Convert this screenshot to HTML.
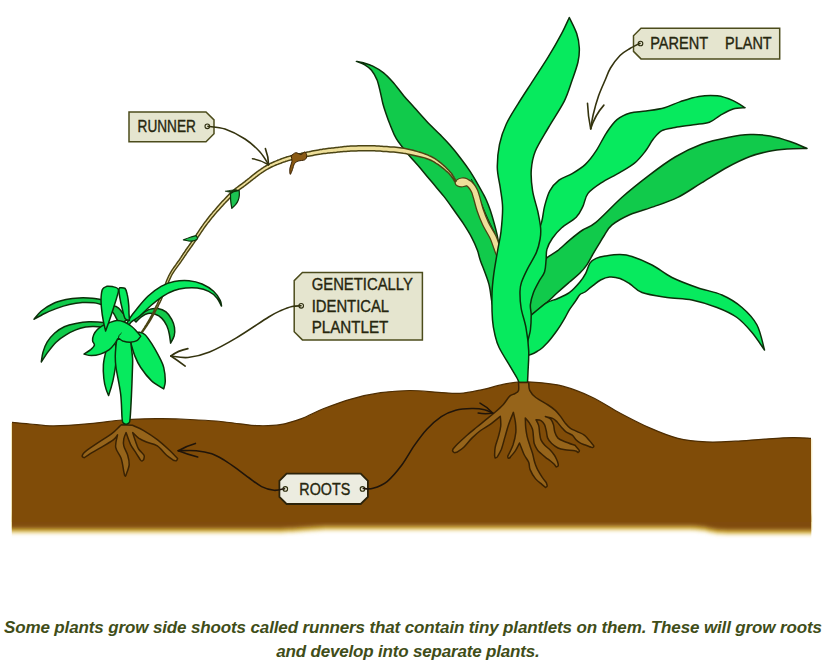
<!DOCTYPE html>
<html lang="en"><head><meta charset="utf-8"><title>Runners</title>
<style>
html,body{margin:0;padding:0;background:#fff;}
body{width:834px;height:670px;overflow:hidden;position:relative;font-family:"Liberation Sans",sans-serif;}
svg{position:absolute;left:0;top:0;display:block;}
svg text{font-family:"Liberation Sans",sans-serif;}
svg text.cap{font:italic bold 17px "Liberation Sans",sans-serif;fill:#404d18;}
</style></head><body>
<svg width="834" height="670" viewBox="0 0 834 670">
<defs>
<filter id="blurY1" filterUnits="userSpaceOnUse" x="0" y="500" width="834" height="60"><feGaussianBlur stdDeviation="0 2.0"/></filter>
<filter id="blurY2" filterUnits="userSpaceOnUse" x="0" y="500" width="834" height="60"><feGaussianBlur stdDeviation="0 2.2"/></filter>
</defs>
<path d="M11.8 515L11.8 532.6L272 532.6C298 532.6 306 529.8 336 529.8L690 529.8C706 529.8 712 534.1 728 534.1L811.3 534.1L811.3 515Z" fill="#dcbc4e" filter="url(#blurY2)"/>
<path d="M11.8 515L11.8 528.8L272 528.8C298 528.8 306 526.0 336 526.0L690 526.0C706 526.0 712 530.3 728 530.3L811.3 530.3L811.3 515Z" fill="#804c08" filter="url(#blurY1)"/>
<path d="M12.0 422.3C15.0 422.6 23.0 423.4 30.0 424.0C37.0 424.6 44.0 426.0 54.0 425.9C64.0 425.8 78.7 424.6 90.0 423.6C101.3 422.6 112.8 420.8 122.0 420.0C131.2 419.2 138.3 419.0 145.0 418.8C151.7 418.6 154.5 418.6 162.0 418.7C169.5 418.8 181.0 419.1 190.0 419.5C199.0 419.9 207.7 420.3 216.0 421.0C224.3 421.7 232.8 423.0 240.0 423.8C247.2 424.6 252.3 425.6 259.0 425.7C265.7 425.8 272.9 425.9 280.0 424.7C287.1 423.5 294.4 421.2 301.6 418.6C308.8 416.0 314.8 412.1 323.2 408.8C331.6 405.5 342.4 401.5 352.0 398.8C361.6 396.1 371.1 394.1 380.7 392.7C390.3 391.3 399.9 390.6 409.5 390.5C419.1 390.4 429.9 391.8 438.3 392.3C446.7 392.8 452.7 393.8 459.9 393.4C467.1 393.0 474.2 391.3 481.4 389.8C488.6 388.3 496.4 385.7 503.0 384.4C509.6 383.1 515.0 382.2 521.0 381.9C527.0 381.6 532.0 381.9 539.0 382.6C546.0 383.3 554.0 383.8 562.8 386.2C571.6 388.6 582.0 392.5 591.6 397.0C601.2 401.5 610.7 408.1 620.3 413.2C629.9 418.3 639.5 423.4 649.1 427.6C658.7 431.8 668.3 435.9 677.9 438.3C687.5 440.7 697.1 441.4 706.7 441.9C716.3 442.4 725.8 441.7 735.4 441.2C745.0 440.7 754.6 439.7 764.2 439.1C773.8 438.5 785.2 437.7 793.0 437.6C800.8 437.5 808.0 438.2 811.0 438.3L811.3 522L11.8 522Z" fill="#804c08"/>
<path d="M11.5 423V528M811.8 439V530" stroke="#efe2a4" stroke-width="1" opacity="0.7" fill="none"/>
<path d="M12.0 422.3C15.0 422.6 23.0 423.4 30.0 424.0C37.0 424.6 44.0 426.0 54.0 425.9C64.0 425.8 78.7 424.6 90.0 423.6C101.3 422.6 112.8 420.8 122.0 420.0C131.2 419.2 138.3 419.0 145.0 418.8C151.7 418.6 154.5 418.6 162.0 418.7C169.5 418.8 181.0 419.1 190.0 419.5C199.0 419.9 207.7 420.3 216.0 421.0C224.3 421.7 232.8 423.0 240.0 423.8C247.2 424.6 252.3 425.6 259.0 425.7C265.7 425.8 272.9 425.9 280.0 424.7C287.1 423.5 294.4 421.2 301.6 418.6C308.8 416.0 314.8 412.1 323.2 408.8C331.6 405.5 342.4 401.5 352.0 398.8C361.6 396.1 371.1 394.1 380.7 392.7C390.3 391.3 399.9 390.6 409.5 390.5C419.1 390.4 429.9 391.8 438.3 392.3C446.7 392.8 452.7 393.8 459.9 393.4C467.1 393.0 474.2 391.3 481.4 389.8C488.6 388.3 496.4 385.7 503.0 384.4C509.6 383.1 515.0 382.2 521.0 381.9C527.0 381.6 532.0 381.9 539.0 382.6C546.0 383.3 554.0 383.8 562.8 386.2C571.6 388.6 582.0 392.5 591.6 397.0C601.2 401.5 610.7 408.1 620.3 413.2C629.9 418.3 639.5 423.4 649.1 427.6C658.7 431.8 668.3 435.9 677.9 438.3C687.5 440.7 697.1 441.4 706.7 441.9C716.3 442.4 725.8 441.7 735.4 441.2C745.0 440.7 754.6 439.7 764.2 439.1C773.8 438.5 785.2 437.7 793.0 437.6C800.8 437.5 808.0 438.2 811.0 438.3" fill="none" stroke="#4d2d02" stroke-width="1.2"/>
<path d="M356.4 61.4C357.6 61.6 360.7 62.0 363.4 62.8C366.1 63.6 369.4 64.4 372.8 66.1C376.2 67.8 380.2 70.1 383.6 72.8C387.0 75.5 389.6 78.4 393.0 82.2C396.4 86.0 400.1 91.4 403.7 95.7C407.3 100.0 410.7 103.5 414.5 107.8C418.3 112.0 422.4 116.7 426.6 121.2C430.9 125.7 436.1 130.6 440.0 134.6C443.9 138.6 446.5 141.2 449.9 145.1C453.3 149.0 457.2 153.8 460.6 158.2C464.0 162.6 467.3 167.1 470.1 171.3C472.9 175.5 475.1 179.5 477.3 183.3C479.5 187.1 481.8 191.2 483.3 194.0C484.8 196.8 485.1 197.3 486.3 200.0C487.5 202.7 489.0 206.4 490.3 210.3C491.6 214.2 493.2 219.7 494.3 223.7C495.4 227.7 496.1 230.3 497.0 234.4C497.9 238.5 499.1 245.7 499.5 248.0L500.0 300.0C498.8 300.9 494.9 308.2 493.0 305.6C491.1 303.0 491.0 291.7 488.9 284.1C486.8 276.5 482.1 265.5 480.2 259.9C478.3 254.3 478.9 254.3 477.5 250.5C476.1 246.7 473.9 241.6 471.5 237.1C469.1 232.6 466.3 228.2 463.4 223.7C460.5 219.2 457.2 214.9 454.0 210.3C450.8 205.8 447.6 201.1 443.9 196.4C440.2 191.7 435.9 186.9 431.9 182.1C427.9 177.3 424.1 172.7 420.0 167.8C415.9 163.0 410.9 157.8 407.0 153.0C403.1 148.2 399.1 143.3 396.3 138.7C393.5 134.1 392.0 129.2 390.3 125.2C388.6 121.2 387.5 118.1 386.3 114.5C385.1 110.9 383.9 107.5 382.9 103.7C381.9 99.9 381.2 95.6 380.2 91.6C379.2 87.6 378.3 83.2 376.9 79.6C375.4 76.0 373.5 72.7 371.5 70.2C369.5 67.7 367.3 66.3 364.8 64.8C362.3 63.3 357.8 62.0 356.4 61.4Z" fill="#11ca4b" stroke="#0c2f0a" stroke-width="1.5" stroke-linejoin="round" stroke-linecap="round" />
<path d="M471.5 179.5C471.9 180.4 473.0 181.9 474.2 184.8C475.4 187.7 477.3 192.8 478.9 196.8C480.5 200.8 481.9 204.9 483.6 208.9C485.3 212.9 487.0 217.0 488.9 221.0C490.8 225.0 494.0 231.1 495.0 233.1" fill="none" stroke="#0c2f0a" stroke-width="1.0" stroke-linejoin="round" stroke-linecap="round" />
<path d="M538.0 268.0C539.4 266.4 542.9 261.2 546.1 258.4C549.3 255.5 553.4 253.9 557.3 250.9C561.2 247.9 565.4 243.6 569.6 240.1C573.8 236.6 578.3 232.9 582.7 230.0C587.1 227.1 589.3 227.9 595.9 222.4C602.5 216.9 613.5 204.8 622.3 197.0C631.1 189.2 639.9 182.3 648.7 175.6C657.5 168.9 666.3 162.2 675.1 157.0C683.9 151.8 692.7 147.6 701.5 144.3C710.3 141.1 719.7 139.1 727.8 137.5C735.9 135.9 743.0 134.8 750.0 134.6C757.0 134.3 763.3 134.8 770.0 136.0C776.7 137.2 783.8 139.4 790.0 141.5C796.2 143.6 804.2 147.3 807.0 148.5C803.7 148.6 793.5 148.5 787.0 149.0C780.5 149.5 774.2 150.2 768.0 151.5C761.8 152.8 756.7 153.9 750.0 156.5C743.3 159.1 735.9 162.6 727.8 167.0C719.7 171.4 709.9 177.8 701.5 182.9C693.1 188.0 685.6 193.5 677.7 197.4C669.8 201.3 661.9 203.8 654.0 206.6C646.1 209.4 637.2 211.4 630.2 214.5C623.2 217.6 616.2 221.5 611.8 225.1C607.4 228.7 606.0 232.9 603.9 236.0C601.8 239.1 600.9 240.9 599.1 243.9C597.3 246.9 595.1 250.5 593.1 253.9C591.1 257.3 589.4 261.1 587.2 264.3C585.0 267.5 582.7 270.3 579.7 273.3C576.7 276.3 573.0 279.0 569.3 282.2C565.6 285.4 561.2 289.2 557.3 292.7C553.4 296.2 550.5 299.4 546.1 303.1C541.8 306.8 534.9 312.3 531.2 315.1C527.5 317.9 525.2 319.2 524.0 320.0Z" fill="#11ca4b" stroke="#0c2f0a" stroke-width="1.5" stroke-linejoin="round" stroke-linecap="round" />
<path d="M524.0 320.0C525.2 319.2 527.5 317.9 531.2 315.1C534.9 312.3 541.8 305.8 546.1 303.1C550.5 300.4 553.4 300.4 557.3 298.7C561.2 297.0 565.6 295.4 569.3 292.7C573.0 289.9 577.0 285.4 579.7 282.2C582.4 279.0 584.0 276.5 585.7 273.3C587.4 270.1 588.4 265.3 590.1 262.8C591.8 260.3 593.6 259.5 596.1 258.4C598.6 257.3 601.1 256.7 605.1 256.1C609.1 255.5 615.5 254.5 620.0 254.6C624.5 254.7 626.7 254.8 632.0 256.5C637.3 258.2 645.3 261.5 652.0 265.0C658.7 268.5 664.5 273.8 672.0 277.5C679.5 281.2 688.7 284.6 697.0 287.5C705.3 290.4 714.5 291.7 722.0 295.0C729.5 298.3 736.2 302.5 742.0 307.5C747.8 312.5 753.2 317.9 757.0 325.0C760.8 332.1 763.2 345.8 764.5 350.0C762.4 347.1 756.6 337.9 752.0 332.5C747.4 327.1 742.8 321.7 737.0 317.5C731.2 313.3 724.5 310.4 717.0 307.5C709.5 304.6 700.3 301.7 692.0 300.0C683.7 298.3 675.3 298.8 667.0 297.5C658.7 296.2 648.2 294.8 642.0 292.5C635.8 290.2 633.7 286.3 630.0 284.0C626.3 281.7 623.4 279.7 620.0 278.5C616.6 277.3 612.8 276.8 609.6 277.0C606.4 277.2 603.6 278.4 600.6 280.0C597.6 281.6 594.2 284.7 591.6 286.7C589.0 288.7 586.9 290.7 585.0 292.0C583.1 293.3 581.6 293.0 580.0 294.5C578.4 296.0 577.2 298.7 575.5 301.2C573.8 303.7 571.3 306.7 569.6 309.4C567.9 312.1 566.6 315.0 565.1 317.6C563.6 320.2 562.1 322.7 560.6 325.1C559.1 327.5 557.6 329.7 556.1 331.8C554.6 333.9 553.1 335.9 551.6 337.8C550.1 339.7 548.7 341.4 547.2 343.0C545.7 344.6 544.3 346.1 542.7 347.5C541.1 348.9 539.4 350.1 537.5 351.2C535.6 352.3 533.8 353.4 531.5 354.2C529.2 355.0 525.2 355.7 524.0 356.0Z" fill="#07ea5e" stroke="#0c2f0a" stroke-width="1.5" stroke-linejoin="round" stroke-linecap="round" />
<path d="M508.0 345.0C508.0 329.2 504.3 267.5 508.0 250.0C511.7 232.5 524.6 244.2 530.0 240.0C535.4 235.8 538.2 230.7 540.6 225.1C543.0 219.5 543.0 212.3 544.5 206.6C546.0 200.9 547.4 195.2 549.8 190.8C552.2 186.4 555.3 183.1 559.0 180.2C562.7 177.3 567.8 176.2 572.2 173.6C576.6 171.0 581.5 168.1 585.4 164.4C589.3 160.7 592.4 156.5 595.9 151.2C599.4 145.9 603.0 138.1 606.5 132.8C610.0 127.5 613.0 122.9 617.0 119.6C621.0 116.3 625.4 114.4 630.2 113.0C635.1 111.6 640.4 112.0 646.1 111.1C651.8 110.2 658.8 109.3 664.5 107.7C670.2 106.1 674.7 103.5 680.4 101.6C686.1 99.7 692.6 97.4 698.8 96.4C704.9 95.4 711.6 95.1 717.3 95.8C723.0 96.5 728.5 98.6 733.1 100.6C737.7 102.6 743.0 106.5 745.0 107.7C743.0 107.9 737.3 107.7 733.1 109.0C728.9 110.3 723.9 113.4 719.9 115.6C715.9 117.8 713.8 120.7 709.4 122.2C705.0 123.7 699.2 123.9 693.5 124.8C687.8 125.7 680.4 126.5 675.1 127.5C669.8 128.5 665.5 128.7 661.9 130.6C658.3 132.5 656.3 135.4 653.5 138.8C650.7 142.2 648.5 147.2 645.3 151.3C642.1 155.4 638.9 159.6 634.5 163.2C630.1 166.8 624.8 169.5 619.2 172.8C613.7 176.1 606.4 179.5 601.2 182.9C596.0 186.3 591.1 189.5 588.0 193.4C584.9 197.3 584.8 202.6 582.8 206.6C580.8 210.6 579.7 213.7 576.2 217.2C572.7 220.7 565.7 224.2 561.7 227.7C557.7 231.2 554.9 234.7 552.4 238.3C549.9 241.9 547.9 245.8 546.9 249.4C545.9 253.0 546.5 256.2 546.1 259.9C545.7 263.6 545.7 268.3 544.6 271.8C543.5 275.3 541.3 277.2 539.4 280.7C537.5 284.2 534.9 288.7 533.4 292.7C531.9 296.7 530.8 300.9 530.4 304.6C530.0 308.3 531.2 310.9 531.2 315.1C531.2 319.3 530.9 325.9 530.4 330.0C529.9 334.1 528.6 337.5 528.0 340.0C527.4 342.5 527.2 344.2 527.0 345.0Z" fill="#07ea5e" stroke="#0c2f0a" stroke-width="1.5" stroke-linejoin="round" stroke-linecap="round" />
<path d="M462.0 182.4C463.0 182.5 466.4 182.3 468.0 183.0C469.6 183.7 470.7 185.2 471.8 186.5C472.9 187.8 473.7 189.3 474.5 191.0C475.3 192.7 475.4 193.6 476.4 196.8C477.3 200.0 478.7 205.8 480.2 210.3C481.7 214.8 483.5 219.2 485.6 223.7C487.7 228.2 491.1 233.1 493.0 237.1C494.9 241.1 495.8 244.8 497.0 247.9C498.2 251.1 499.5 254.7 500.0 256.0" fill="none" stroke="#4b4414" stroke-width="7.6" stroke-linecap="round"/>
<ellipse cx="462.3" cy="182.4" rx="7.8" ry="5.0" transform="rotate(-6 462.3 182.4)" fill="#4b4414"/>
<path d="M462.0 182.4C463.0 182.5 466.4 182.3 468.0 183.0C469.6 183.7 470.7 185.2 471.8 186.5C472.9 187.8 473.7 189.3 474.5 191.0C475.3 192.7 475.4 193.6 476.4 196.8C477.3 200.0 478.7 205.8 480.2 210.3C481.7 214.8 483.5 219.2 485.6 223.7C487.7 228.2 491.1 233.1 493.0 237.1C494.9 241.1 495.8 244.8 497.0 247.9C498.2 251.1 499.5 254.7 500.0 256.0" fill="none" stroke="#eedf9a" stroke-width="5.0" stroke-linecap="round"/>
<ellipse cx="462.3" cy="182.4" rx="6.6" ry="3.8" transform="rotate(-6 462.3 182.4)" fill="#eedf9a"/>
<path d="M569.3 17.5C568.0 20.2 565.1 27.0 561.6 33.6C558.1 40.2 552.9 49.3 548.1 57.1C543.3 64.9 538.0 72.8 533.0 80.6C528.0 88.4 522.4 96.8 517.9 104.1C513.4 111.4 509.3 117.5 506.2 124.2C503.1 130.9 501.0 137.0 499.5 144.3C498.0 151.6 497.2 160.5 497.3 167.8C497.4 175.1 499.4 181.3 500.3 188.0C501.2 194.7 502.5 200.4 502.6 207.7C502.7 215.0 501.8 224.4 501.0 231.6C500.2 238.8 498.8 243.5 497.6 250.7C496.4 257.9 494.6 267.4 493.7 274.6C492.8 281.8 492.2 286.1 492.0 293.7C491.8 301.2 492.0 313.0 492.5 319.9C493.0 326.8 493.9 330.4 495.0 335.0C496.1 339.6 496.5 342.1 499.1 347.5C501.7 352.9 507.6 362.1 510.6 367.2C513.6 372.3 515.6 375.4 517.0 378.0C518.4 380.6 518.7 381.8 519.0 382.5L527.5 382.5C527.6 380.8 527.8 377.3 528.0 372.0C528.2 366.7 529.0 358.2 528.7 350.8C528.4 343.4 527.3 334.9 526.0 327.8C524.7 320.7 522.1 314.1 521.1 308.0C520.1 301.9 519.9 295.6 520.0 291.3C520.1 287.0 520.2 285.9 521.5 282.2C522.8 278.4 525.0 273.8 527.5 268.8C530.0 263.8 534.3 257.4 536.4 252.4C538.5 247.4 539.4 243.1 540.1 239.0C540.8 234.9 541.0 232.2 540.6 227.7C540.2 223.2 539.2 218.1 537.9 211.9C536.6 205.8 533.7 197.8 532.6 190.8C531.5 183.8 530.8 176.3 531.3 169.7C531.8 163.1 532.4 158.2 535.3 151.2C538.2 144.2 543.7 135.8 548.5 127.5C553.3 119.2 560.3 109.0 564.3 101.1C568.2 93.2 569.9 86.5 572.2 80.0C574.5 73.5 576.8 67.3 578.0 62.0C579.2 56.7 579.5 52.7 579.3 48.0C579.1 43.3 578.4 38.7 576.7 33.6C575.0 28.5 570.5 20.2 569.3 17.5Z" fill="#07ea5e" stroke="#0c2f0a" stroke-width="1.5" stroke-linejoin="round" stroke-linecap="round" />
<path d="M518.5 382.6C518.5 383.9 519.1 388.5 518.5 390.4C517.9 392.2 516.5 392.7 515.0 393.6C513.5 394.6 511.6 394.3 509.7 396.1C507.8 397.9 505.8 401.8 503.4 404.4C500.9 407.1 497.8 409.8 495.0 412.2C492.3 414.6 490.0 416.4 486.9 418.9C483.8 421.5 479.8 424.6 476.3 427.5C472.8 430.4 469.0 433.5 465.9 436.2C462.8 439.0 459.7 441.9 457.5 444.0C455.4 446.1 453.8 448.2 453.0 449.1C453.0 449.4 452.4 450.5 452.6 451.1C452.8 451.7 453.6 452.3 454.3 452.6C454.9 452.8 456.3 452.4 456.7 452.3C457.9 451.5 461.3 449.7 463.8 447.3C466.4 444.8 469.4 440.7 472.2 437.9C475.0 435.1 477.6 432.7 480.6 430.5C483.5 428.3 486.6 427.0 489.9 424.6C493.2 422.2 498.6 417.7 500.3 416.3C500.4 417.9 501.1 422.8 500.7 426.3C500.4 429.7 499.2 433.4 498.3 436.9C497.4 440.4 495.8 444.2 495.2 447.3C494.6 450.3 494.7 453.9 494.6 455.2C494.7 455.7 494.8 457.8 495.2 458.1C495.7 458.3 496.9 457.0 497.3 456.8C498.0 455.6 500.1 452.6 501.4 449.3C502.6 446.0 503.8 441.0 505.0 436.9C506.2 432.7 507.3 428.3 508.7 424.2C510.1 420.1 512.6 414.4 513.4 412.4C513.7 414.0 515.0 418.8 515.4 422.2C515.8 425.5 516.2 428.8 515.8 432.6C515.4 436.4 514.3 441.0 513.0 445.0C511.6 449.0 508.6 454.5 507.7 456.4L507.7 456.6C507.8 456.9 507.8 458.1 508.3 458.3C508.7 458.4 510.0 457.7 510.3 457.6L509.2 458.2C510.2 457.1 513.3 453.9 515.0 451.4C516.7 448.9 518.8 444.4 519.5 443.0C520.3 444.9 522.7 451.5 524.2 454.7C525.7 457.9 527.7 459.7 528.7 462.2C529.7 464.7 529.0 466.9 530.1 469.6C531.2 472.3 533.4 476.1 535.4 478.6C537.4 481.1 540.4 483.1 542.1 484.6C543.8 486.1 544.9 487.0 545.5 487.5C545.8 487.2 547.1 486.8 547.2 486.0C547.3 485.2 546.4 483.1 546.2 482.5C545.5 481.6 543.5 479.2 542.1 477.1C540.7 475.0 538.7 471.6 537.6 469.6C536.5 467.6 536.2 466.5 535.6 465.0C535.0 463.5 534.7 462.4 534.2 460.5C533.7 458.6 533.2 455.8 532.5 453.3C531.8 450.8 530.7 448.1 529.8 445.3C528.9 442.5 527.8 439.3 527.1 436.3C526.4 433.3 526.0 430.4 525.7 427.4C525.4 424.3 525.4 419.6 525.3 418.0C526.0 418.8 528.1 421.0 529.3 422.9C530.5 424.8 531.8 427.0 532.5 429.2C533.2 431.4 533.1 433.9 533.4 436.3C533.7 438.7 533.5 441.2 534.2 443.5C534.9 445.8 536.3 448.1 537.4 449.8C538.5 451.5 539.6 452.2 541.0 453.5C542.4 454.8 543.9 456.1 545.5 457.3C547.1 458.6 549.1 459.9 550.5 461.0C551.9 462.1 553.0 463.0 554.0 464.0C555.0 465.0 555.9 466.5 556.3 467.0C556.6 466.8 558.1 466.5 558.3 465.5C558.5 464.5 557.5 461.8 557.3 461.0C556.8 460.1 555.8 457.3 554.6 455.5C553.4 453.7 551.8 451.7 550.2 450.0C548.6 448.3 546.3 447.0 544.8 445.3C543.3 443.6 541.9 442.0 541.0 439.9C540.1 437.8 540.0 435.2 539.6 432.8C539.2 430.4 539.3 427.8 538.7 425.6C538.1 423.4 536.5 420.8 536.0 419.8C536.8 419.9 539.6 419.9 541.0 420.7C542.4 421.5 543.6 423.0 544.5 424.7C545.4 426.4 545.8 428.8 546.3 431.0C546.8 433.2 546.8 436.0 547.7 438.1C548.6 440.2 550.0 441.9 551.7 443.5C553.4 445.1 555.8 446.9 558.0 448.0C560.2 449.1 562.3 449.4 565.1 449.8C567.9 450.2 572.9 450.2 575.0 450.7C577.1 451.1 577.5 452.2 578.0 452.5C578.2 452.2 579.8 451.7 579.3 450.5C578.8 449.3 575.7 446.2 575.0 445.3C573.4 444.7 567.9 442.9 565.1 441.7C562.3 440.5 559.7 439.7 558.0 438.1C556.3 436.5 555.5 434.1 554.8 431.9C554.0 429.7 554.2 426.8 553.5 424.7C552.8 422.6 552.1 420.6 550.8 419.3C549.4 418.0 546.3 417.1 545.4 416.6C546.6 416.9 550.6 417.5 552.6 418.4C554.6 419.3 555.6 420.5 557.1 422.0C558.6 423.5 560.1 425.8 561.6 427.4C563.1 429.0 564.2 430.6 566.0 431.9C567.8 433.2 570.6 433.9 572.3 435.2C574.0 436.5 574.7 438.5 576.0 439.8C577.3 441.1 578.6 442.0 580.0 442.8C581.4 443.6 583.1 444.2 584.6 444.8C586.1 445.4 587.7 446.0 589.0 446.5C590.3 447.0 591.9 447.4 592.5 447.6C592.7 447.3 594.0 446.8 593.8 446.0C593.6 445.2 591.7 443.3 591.3 442.8C590.2 441.6 587.0 437.2 584.6 435.3C582.2 433.4 579.6 432.8 577.2 431.6C574.9 430.4 572.5 429.8 570.5 428.3C568.5 426.9 566.7 424.8 565.1 422.9C563.5 420.9 562.3 418.7 560.7 416.6C559.1 414.5 557.4 412.3 555.3 410.4C553.2 408.5 551.4 407.1 548.1 405.0C544.9 402.9 538.9 399.9 535.8 397.5C532.7 395.1 530.9 392.9 529.7 390.4C528.5 387.9 528.9 383.9 528.7 382.6Z" fill="#96641a" stroke="#3a2203" stroke-width="1.5" stroke-linejoin="round" stroke-linecap="round" />
<path d="M121.4 424.8C121.1 425.1 121.1 424.9 119.6 426.4C118.0 427.8 115.7 430.7 112.1 433.4C108.5 436.1 102.5 439.7 98.1 442.7C93.6 445.7 88.1 449.4 85.6 451.3C83.0 453.3 83.3 453.9 82.8 454.4C82.7 454.8 81.9 455.9 82.2 456.5C82.4 457.0 84.0 457.5 84.3 457.7C85.3 457.0 87.5 455.4 90.3 453.6C93.1 451.9 97.3 449.8 101.2 447.4C105.1 445.1 110.9 441.7 113.6 439.6C116.4 437.5 116.9 435.7 117.5 434.9C117.2 437.0 115.1 443.5 115.7 447.4C116.3 451.3 119.8 454.3 121.1 458.3C122.5 462.4 123.2 468.8 123.8 471.6C124.4 474.4 124.4 474.6 124.6 475.2C124.7 475.3 125.2 476.3 125.5 476.1C125.8 475.9 126.3 474.3 126.4 473.9C126.9 472.4 129.0 467.7 129.2 464.6C129.4 461.4 128.6 458.3 127.7 455.2C126.8 452.1 124.4 448.6 123.8 445.9C123.1 443.1 123.4 441.0 123.8 438.8C124.2 436.6 125.7 433.6 126.1 432.6C126.8 434.6 128.9 441.0 130.5 444.3C132.0 447.5 133.9 449.6 135.5 452.1C137.0 454.6 139.1 457.9 139.8 459.1C140.1 459.4 141.1 461.1 141.7 461.1C142.4 461.2 143.4 459.8 143.7 459.6C143.8 458.8 144.9 457.0 144.0 455.2C143.2 453.4 140.0 451.3 138.6 449.0C137.2 446.6 136.5 443.9 135.5 441.2C134.5 438.4 133.1 434.0 132.7 432.6C133.7 433.5 136.3 436.5 138.6 438.1C140.9 439.6 143.3 440.7 146.4 442.0C149.5 443.3 153.9 443.6 157.3 445.9C160.7 448.1 163.9 452.8 166.6 455.2C169.4 457.6 172.5 459.5 173.7 460.4C174.1 460.4 175.7 461.1 176.3 460.8C177.0 460.5 177.4 459.0 177.6 458.6C176.3 457.3 173.1 453.7 169.8 450.5C166.4 447.4 161.7 443.0 157.3 439.6C152.9 436.2 147.4 432.7 143.3 430.3C139.1 427.9 134.2 426.1 132.4 425.3Z" fill="#96641a" stroke="#3a2203" stroke-width="1.5" stroke-linejoin="round" stroke-linecap="round" />
<path d="M108.0 300.5C106.8 300.4 103.1 300.0 100.5 299.6C97.9 299.2 95.8 298.5 92.2 298.2C88.6 297.9 83.5 297.7 79.1 297.9C74.7 298.1 70.4 298.6 66.0 299.6C61.6 300.6 56.9 301.8 52.8 303.7C48.7 305.6 44.4 308.4 41.3 311.0C38.2 313.6 35.2 317.9 34.0 319.3C35.8 318.3 40.9 315.3 44.6 313.5C48.3 311.7 52.0 310.1 56.1 308.6C60.2 307.1 64.9 305.5 69.3 304.5C73.7 303.5 78.3 302.8 82.4 302.5C86.5 302.2 90.8 302.5 93.9 302.8C97.1 303.1 99.0 304.0 101.3 304.5C103.6 305.0 106.9 305.8 108.0 306.0Z" fill="#11ca4b" stroke="#0c2f0a" stroke-width="1.5" stroke-linejoin="round" stroke-linecap="round" />
<path d="M108.0 323.0C106.8 322.9 103.7 322.4 100.5 322.2C97.3 322.0 93.1 321.5 89.0 321.7C84.9 321.9 79.9 322.6 75.8 323.4C71.7 324.2 67.8 325.1 64.3 326.7C60.8 328.3 57.4 330.6 54.5 333.2C51.6 335.8 49.0 339.0 47.1 342.2C45.2 345.4 44.0 348.8 43.0 352.1C42.0 355.4 41.6 360.4 41.3 362.0C42.4 360.4 45.4 355.4 47.9 352.1C50.4 348.8 53.1 345.1 56.1 342.2C59.1 339.3 62.7 336.9 66.0 334.9C69.3 332.8 72.5 331.2 75.8 329.9C79.1 328.6 82.7 327.7 85.7 327.1C88.7 326.6 90.2 326.5 93.9 326.6C97.6 326.8 105.7 327.8 108.0 328.0Z" fill="#11ca4b" stroke="#0c2f0a" stroke-width="1.5" stroke-linejoin="round" stroke-linecap="round" />
<path d="M134.0 320.0C135.2 319.1 138.7 316.1 141.3 314.3C143.9 312.5 146.8 310.3 149.6 309.4C152.3 308.4 155.1 308.2 157.8 308.6C160.5 309.0 163.7 310.1 166.0 311.9C168.3 313.7 170.3 316.7 171.7 319.3C173.1 321.9 174.1 324.8 174.5 327.5C174.9 330.2 174.8 333.1 174.2 335.7C173.5 338.3 171.2 341.9 170.6 343.1C170.4 341.6 169.9 336.9 169.3 334.0C168.7 331.1 168.0 328.4 166.8 325.8C165.6 323.2 163.8 320.3 161.9 318.4C160.0 316.5 157.6 315.1 155.3 314.3C153.0 313.5 150.2 313.1 147.9 313.5C145.6 313.9 143.3 315.4 141.3 316.8C139.3 318.2 136.9 321.1 136.0 322.0Z" fill="#11ca4b" stroke="#0c2f0a" stroke-width="1.5" stroke-linejoin="round" stroke-linecap="round" />
<path d="M110.1 308.6C110.7 308.1 112.7 306.0 114.1 305.9C115.5 305.8 117.0 306.8 118.6 308.1C120.1 309.5 122.0 311.9 123.5 313.8C125.0 315.7 126.9 318.8 127.5 319.8C126.2 320.3 122.0 323.7 119.8 322.8C117.5 321.8 115.7 316.5 114.1 314.1C112.5 311.7 110.7 309.5 110.1 308.6Z" fill="#11ca4b" stroke="#0c2f0a" stroke-width="1.5" stroke-linejoin="round" stroke-linecap="round" />
<path d="M142.6 332.0L142.9 331.4L143.4 330.8L143.9 330.1L144.5 329.3L145.1 328.4L145.8 327.4L146.5 326.4L147.2 325.3L147.9 324.2L148.6 323.1L149.3 322.0L150.0 320.8L150.8 319.5L151.6 318.2L152.3 316.9L153.1 315.5L153.9 314.1L154.7 312.6L155.5 311.1L156.3 309.7L157.1 308.1L157.9 306.6L158.6 305.0L159.4 303.4L160.2 301.8L161.0 300.1L161.7 298.4L162.5 296.7L163.3 295.0L164.0 293.3L164.8 291.6L165.5 289.8L166.3 287.9L167.0 286.1L167.7 284.3L168.4 282.4L169.1 280.6L169.9 278.9L170.7 277.2L171.5 275.5L172.4 273.9L173.4 272.3L174.5 270.7L175.6 269.1L176.7 267.6L177.8 266.1L178.9 264.6L179.9 263.2L180.9 261.9L181.7 260.7L182.4 259.6L183.1 258.7L183.6 257.9L184.1 257.2L184.5 256.5L184.9 255.9L185.4 255.2L185.9 254.5L186.5 253.6L187.1 252.6L187.9 251.5L188.8 250.3L189.7 249.0L190.7 247.6L191.7 246.2L192.7 244.8L193.7 243.4L194.7 241.9L195.7 240.6L196.6 239.3L197.5 238.0L198.3 236.7L199.1 235.5L199.9 234.3L200.7 233.1L201.5 231.9L202.3 230.8L203.1 229.6L203.9 228.4L204.7 227.2L205.6 226.0L206.5 224.8L207.4 223.6L208.3 222.4L209.3 221.2L210.2 220.0L211.2 218.8L212.1 217.6L213.1 216.4L214.1 215.2L215.1 214.0L216.2 212.8L217.2 211.6L218.3 210.4L219.4 209.2L220.5 207.9L221.6 206.7L222.7 205.6L223.7 204.4L224.8 203.3L225.9 202.1L227.0 201.0L228.1 199.9L229.1 198.8L230.2 197.7L231.3 196.6L232.4 195.6L233.4 194.6L234.5 193.6L235.5 192.7L236.6 191.8L237.7 190.9L238.9 190.0L240.0 189.2L241.2 188.3L242.3 187.5L243.4 186.8L244.4 186.0L245.4 185.3L246.2 184.7L246.9 184.2L247.5 183.7L248.0 183.3L248.4 183.0L248.8 182.7L249.1 182.4L249.5 182.1L249.9 181.8L250.4 181.4L251.0 180.9L251.8 180.3L252.6 179.7L253.4 179.0L254.3 178.3L255.3 177.6L256.2 176.8L257.2 176.1L258.1 175.4L259.1 174.7L260.0 174.0L260.9 173.4L261.9 172.7L262.8 172.1L263.8 171.4L264.7 170.8L265.7 170.2L266.6 169.6L267.6 169.1L268.6 168.5L269.6 168.0L270.5 167.5L271.5 167.0L272.5 166.5L273.5 166.1L274.5 165.6L275.5 165.2L276.5 164.8L277.6 164.4L278.6 164.0L279.7 163.6L280.8 163.2L281.8 162.8L282.8 162.4L283.9 162.0L284.9 161.7L286.0 161.3L287.1 161.0L288.3 160.6L289.5 160.3L290.8 159.9L292.2 159.6L293.6 159.2L295.2 158.9L296.7 158.5L298.3 158.2L300.0 157.9L301.6 157.5L303.3 157.2L304.9 156.9L306.5 156.6L308.1 156.3L309.7 156.0L311.3 155.7L312.9 155.4L314.5 155.1L316.1 154.8L317.7 154.5L319.3 154.3L320.8 154.1L322.3 153.8L323.8 153.6L325.3 153.4L326.7 153.3L328.1 153.1L329.5 153.0L330.9 152.8L332.3 152.7L333.7 152.5L335.1 152.4L336.5 152.3L338.0 152.1L339.4 152.0L340.7 151.8L342.1 151.7L343.4 151.6L344.8 151.5L346.2 151.4L347.7 151.3L349.2 151.2L350.8 151.1L352.6 151.0L354.4 150.9L356.3 150.9L358.3 150.8L360.4 150.8L362.4 150.7L364.4 150.7L366.3 150.7L368.2 150.7L370.0 150.7L371.6 150.7L373.1 150.8L374.6 150.8L376.0 150.9L377.4 151.0L378.8 151.0L380.2 151.1L381.6 151.2L383.2 151.4L384.8 151.5L386.5 151.6L388.3 151.7L390.1 151.9L391.9 152.0L393.7 152.1L395.6 152.3L397.5 152.5L399.4 152.7L401.3 152.9L403.3 153.3L405.3 153.6L407.5 154.1L409.7 154.5L412.0 154.9L414.3 155.4L416.5 155.9L418.7 156.4L420.8 156.9L422.8 157.4L424.6 157.9L426.2 158.5L427.6 159.0L429.0 159.5L430.2 160.0L431.4 160.5L432.5 161.1L433.6 161.7L434.7 162.4L435.8 163.1L437.0 163.8L438.3 164.7L439.6 165.6L440.9 166.6L442.2 167.6L443.5 168.6L444.8 169.7L446.0 170.8L447.2 171.8L448.2 172.8L449.2 173.8L450.0 174.7L450.8 175.6L451.5 176.5L452.2 177.5L452.8 178.4L453.3 179.2L453.8 180.0L454.2 180.7L454.6 181.4L454.9 181.8L456.1 181.2L455.8 180.7L455.4 180.1L455.1 179.3L454.6 178.5L454.1 177.6L453.6 176.6L452.9 175.6L452.2 174.5L451.5 173.5L450.6 172.4L449.7 171.4L448.7 170.3L447.6 169.2L446.4 168.0L445.2 166.8L443.9 165.6L442.6 164.5L441.3 163.4L440.0 162.3L438.8 161.4L437.6 160.5L436.4 159.7L435.3 158.9L434.1 158.2L432.9 157.5L431.7 156.8L430.4 156.2L429.0 155.6L427.5 154.9L425.8 154.3L424.0 153.6L422.0 152.9L419.9 152.2L417.7 151.6L415.4 150.9L413.1 150.3L410.7 149.7L408.5 149.2L406.2 148.7L404.1 148.3L402.1 148.0L400.0 147.7L398.0 147.5L396.1 147.3L394.1 147.1L392.3 147.0L390.4 146.9L388.6 146.7L386.9 146.6L385.2 146.5L383.6 146.4L382.0 146.3L380.5 146.2L379.1 146.1L377.7 146.0L376.3 145.9L374.8 145.8L373.3 145.8L371.7 145.7L370.0 145.7L368.2 145.7L366.3 145.7L364.3 145.7L362.3 145.7L360.3 145.8L358.2 145.8L356.2 145.9L354.2 145.9L352.3 146.0L350.6 146.1L348.9 146.2L347.3 146.3L345.8 146.5L344.4 146.6L342.9 146.7L341.6 146.9L340.2 147.1L338.8 147.2L337.5 147.4L336.1 147.5L334.6 147.7L333.2 147.9L331.8 148.0L330.4 148.2L329.0 148.3L327.6 148.5L326.1 148.7L324.7 148.9L323.2 149.1L321.7 149.4L320.1 149.6L318.6 149.9L317.0 150.2L315.4 150.5L313.7 150.8L312.1 151.1L310.5 151.4L308.9 151.8L307.3 152.1L305.7 152.4L304.1 152.8L302.4 153.1L300.8 153.5L299.1 153.8L297.5 154.2L295.8 154.6L294.2 154.9L292.7 155.3L291.2 155.7L289.8 156.1L288.4 156.5L287.2 156.8L286.0 157.2L284.8 157.6L283.7 158.0L282.6 158.4L281.5 158.8L280.4 159.2L279.4 159.6L278.3 160.0L277.2 160.5L276.2 160.9L275.1 161.3L274.1 161.8L273.0 162.3L272.0 162.7L270.9 163.2L269.9 163.7L268.9 164.3L267.8 164.8L266.8 165.4L265.8 166.0L264.8 166.6L263.8 167.2L262.8 167.9L261.8 168.5L260.9 169.2L259.9 169.9L258.9 170.5L258.0 171.2L257.0 171.9L256.1 172.6L255.1 173.4L254.1 174.2L253.1 174.9L252.2 175.7L251.3 176.4L250.5 177.1L249.7 177.7L249.0 178.3L248.3 178.8L247.8 179.2L247.4 179.5L247.0 179.8L246.7 180.1L246.3 180.4L245.9 180.7L245.4 181.1L244.9 181.6L244.2 182.1L243.4 182.7L242.5 183.4L241.5 184.1L240.4 184.9L239.3 185.7L238.1 186.6L236.9 187.5L235.7 188.4L234.6 189.3L233.5 190.3L232.4 191.3L231.3 192.3L230.2 193.3L229.1 194.4L228.0 195.5L226.9 196.6L225.8 197.7L224.7 198.9L223.7 200.0L222.6 201.1L221.5 202.3L220.4 203.5L219.3 204.7L218.2 205.9L217.1 207.2L216.1 208.4L215.0 209.7L213.9 210.9L212.9 212.1L211.9 213.4L210.9 214.6L209.9 215.8L208.9 217.0L208.0 218.2L207.0 219.5L206.1 220.7L205.1 221.9L204.2 223.1L203.3 224.4L202.5 225.6L201.6 226.8L200.8 228.0L200.0 229.2L199.2 230.4L198.4 231.6L197.6 232.8L196.8 234.0L196.1 235.2L195.2 236.5L194.4 237.7L193.5 239.0L192.6 240.4L191.6 241.8L190.6 243.3L189.6 244.7L188.6 246.1L187.6 247.5L186.7 248.8L185.8 250.0L185.1 251.2L184.4 252.2L183.8 253.0L183.3 253.8L182.8 254.5L182.4 255.2L182.0 255.8L181.5 256.5L181.0 257.3L180.4 258.2L179.7 259.3L178.9 260.5L177.9 261.8L176.9 263.2L175.9 264.7L174.8 266.2L173.6 267.8L172.5 269.4L171.4 271.1L170.4 272.8L169.5 274.5L168.6 276.2L167.8 278.0L167.0 279.8L166.3 281.6L165.6 283.5L164.9 285.3L164.2 287.2L163.5 289.0L162.9 290.8L162.2 292.5L161.4 294.2L160.7 295.9L160.0 297.6L159.3 299.3L158.5 301.0L157.8 302.7L157.1 304.3L156.3 305.9L155.6 307.4L154.9 308.9L154.2 310.4L153.4 311.9L152.7 313.4L151.9 314.8L151.2 316.2L150.4 317.5L149.7 318.9L149.0 320.1L148.3 321.3L147.6 322.5L146.9 323.6L146.3 324.7L145.6 325.8L144.9 326.8L144.3 327.8L143.7 328.7L143.1 329.6L142.6 330.3L142.2 330.9L141.8 331.4Z" fill="#eedf9a" stroke="#4b4414" stroke-width="1.5" stroke-linejoin="round"/>
<path d="M126.0 326.0C126.5 324.9 127.3 322.1 129.0 319.3C130.7 316.5 133.2 313.2 136.4 309.4C139.6 305.6 143.8 300.1 147.9 296.3C152.0 292.5 156.7 288.9 161.1 286.4C165.5 283.9 169.5 282.4 174.2 281.5C178.8 280.6 184.3 280.3 189.0 280.7C193.7 281.1 198.0 282.2 202.1 284.0C206.2 285.8 210.6 288.6 213.6 291.3C216.6 294.0 218.9 297.9 220.2 300.4C221.5 302.9 221.3 305.2 221.5 306.1C220.7 304.7 219.0 300.4 216.9 297.9C214.8 295.4 212.0 292.9 208.7 291.3C205.4 289.7 201.0 288.6 197.2 288.1C193.4 287.6 189.5 287.7 185.7 288.1C181.9 288.5 178.0 289.1 174.2 290.5C170.4 291.9 166.5 293.8 162.7 296.3C158.9 298.8 155.0 302.0 151.2 305.3C147.4 308.6 143.1 313.1 139.7 316.0C136.3 318.9 132.8 320.2 130.7 322.5C128.6 324.8 127.6 328.8 127.0 330.0Z" fill="#07ea5e" stroke="#0c2f0a" stroke-width="1.5" stroke-linejoin="round" stroke-linecap="round" />
<path d="M130.5 340.7C130.6 341.2 130.3 341.2 131.0 343.7C131.7 346.1 133.1 351.6 134.7 355.6C136.3 359.6 137.9 363.3 140.7 367.5C143.5 371.7 147.8 377.3 151.6 380.9C155.5 384.4 161.7 387.6 163.7 388.9C164.0 387.6 165.3 384.5 165.3 380.9C165.3 377.3 164.6 371.2 163.7 367.4C162.8 363.7 161.9 362.3 160.1 358.6C158.2 354.9 155.1 349.1 152.6 345.1C150.1 341.2 147.4 336.9 145.1 334.7C142.9 332.5 140.9 332.4 139.2 332.2C137.4 331.9 135.4 333.0 134.7 333.2Z" fill="#07ea5e" stroke="#0c2f0a" stroke-width="1.5" stroke-linejoin="round" stroke-linecap="round" />
<path d="M107.1 349.6C106.8 350.1 106.2 350.1 105.6 352.6C105.0 355.1 103.7 360.3 103.4 364.6C103.1 368.8 103.4 374.1 103.8 378.2C104.2 382.2 105.1 386.0 106.0 388.9C106.8 391.8 108.2 394.5 108.6 395.6C109.4 393.2 111.8 385.6 112.9 380.9C114.0 376.2 114.8 371.3 115.3 367.5C115.8 363.8 116.1 362.3 116.2 358.6C116.2 354.9 116.2 348.1 115.6 345.1C115.0 342.2 112.9 341.4 112.3 340.7Z" fill="#07ea5e" stroke="#0c2f0a" stroke-width="1.5" stroke-linejoin="round" stroke-linecap="round" />
<path d="M116.8 339.2C116.7 340.2 116.3 342.4 116.0 345.1C115.8 347.9 115.3 351.9 115.3 355.6C115.3 359.3 115.1 361.1 116.0 367.5C116.9 374.0 119.7 385.8 120.7 394.3C121.7 402.8 121.6 413.7 122.1 418.5C122.5 423.3 122.7 422.1 123.4 423.0C124.1 424.0 125.6 424.2 126.1 424.4C126.5 424.2 128.1 424.0 128.8 423.0C129.5 422.1 129.7 423.3 130.1 418.5C130.6 413.7 131.1 402.8 131.5 394.3C131.9 385.8 132.3 373.5 132.5 367.5C132.7 361.6 132.8 362.3 132.6 358.6C132.4 354.9 131.5 348.4 131.1 345.1C130.7 341.9 130.4 340.2 130.2 339.2Z" fill="#07ea5e" stroke="#0c2f0a" stroke-width="1.5" stroke-linejoin="round" stroke-linecap="round" />
<path d="M84.0 354.1C85.1 353.4 88.9 351.1 90.7 349.6C92.4 348.1 94.1 346.6 94.4 345.1C94.7 343.7 92.7 342.4 92.6 340.7C92.5 338.9 92.9 336.6 93.7 334.7C94.5 332.8 95.9 331.0 97.4 329.5C98.9 328.0 100.6 326.9 102.6 325.7C104.6 324.6 107.0 323.6 109.3 322.8C111.7 321.9 114.3 320.6 116.8 320.5C119.3 320.4 121.8 321.0 124.3 322.0C126.7 323.0 129.6 324.9 131.7 326.5C133.8 328.1 135.4 330.1 136.9 331.7C138.4 333.3 140.0 335.4 140.7 336.2C140.0 336.9 138.7 339.7 136.9 340.7C135.2 341.7 132.6 342.1 130.2 342.2C127.9 342.2 124.8 341.6 122.8 341.0C120.8 340.3 119.5 338.1 118.3 338.4C117.0 338.8 116.8 341.0 115.3 342.9C113.8 344.8 111.8 347.8 109.3 349.6C106.8 351.5 103.4 353.1 100.4 354.1C97.4 355.1 94.2 355.6 91.4 355.6C88.7 355.6 85.2 354.4 84.0 354.1Z" fill="#07ea5e" stroke="#0c2f0a" stroke-width="1.5" stroke-linejoin="round" stroke-linecap="round" />
<path d="M118.3 338.4C118.4 337.9 118.7 336.3 119.2 335.4C119.7 334.6 120.9 333.6 121.3 333.2" fill="none" stroke="#0c2f0a" stroke-width="1.0" stroke-linejoin="round" stroke-linecap="round" />
<path d="M107.1 286.2C106.3 286.7 103.6 287.3 102.6 289.2C101.6 291.0 101.3 294.0 101.1 297.4C100.9 300.7 101.2 305.3 101.6 309.3C101.9 313.3 102.7 317.7 103.4 321.3C104.0 324.9 105.2 329.4 105.6 331.0C106.1 329.6 107.3 326.4 108.6 322.8C109.8 319.2 111.7 313.6 113.1 309.3C114.4 305.1 115.9 300.7 116.8 297.4C117.7 294.0 119.0 291.0 118.3 289.2C117.5 287.4 114.2 287.1 112.3 286.6C110.4 286.1 108.0 286.3 107.1 286.2Z" fill="#07ea5e" stroke="#0c2f0a" stroke-width="1.5" stroke-linejoin="round" stroke-linecap="round" />
<path d="M119.8 287.7C120.6 287.8 123.8 287.3 125.0 288.4C126.2 289.6 126.6 291.7 127.2 294.4C127.9 297.1 128.4 301.6 128.7 304.9C129.0 308.1 128.9 311.2 129.0 313.8C129.2 316.4 129.4 319.4 129.5 320.5C128.7 320.1 126.2 320.4 125.0 318.3C123.8 316.2 122.9 311.3 122.0 307.8C121.1 304.4 120.3 300.4 119.8 297.4C119.3 294.4 118.9 291.5 118.9 289.9C118.9 288.3 119.6 288.1 119.8 287.7Z" fill="#07ea5e" stroke="#0c2f0a" stroke-width="1.5" stroke-linejoin="round" stroke-linecap="round" />
<path d="M291.2 155.9C292.0 155.4 294.1 152.9 295.7 152.7C297.4 152.4 299.4 154.7 300.9 154.6C302.4 154.5 303.8 151.8 304.8 152.0C305.8 152.2 306.8 154.6 306.8 155.9C306.8 157.2 306.2 158.9 304.8 159.8C303.4 160.6 300.1 160.4 298.3 161.1C296.6 161.7 295.4 162.3 294.5 163.7C293.5 165.1 293.2 167.7 292.5 169.5C291.8 171.3 290.7 174.6 290.2 174.4C289.8 174.1 289.7 170.3 289.9 168.2C290.2 166.1 291.6 163.8 291.9 161.7C292.1 159.7 291.3 156.9 291.2 155.9Z" fill="#8a5a14" stroke="#3a2203" stroke-width="1.0" stroke-linejoin="round" stroke-linecap="round" />
<path d="M225.7 191.2C226.8 191.0 229.9 190.4 231.8 190.2C233.7 189.9 236.3 189.7 237.2 189.9C238.1 190.1 238.2 191.1 237.2 191.5C236.2 191.9 233.0 192.3 231.1 192.3C229.2 192.3 226.6 191.4 225.7 191.2Z" fill="#20400f" stroke="#0c2f0a" stroke-width="0.8" stroke-linejoin="round" stroke-linecap="round" />
<path d="M230.5 193.5C231.1 193.2 233.0 192.0 234.5 191.5C235.9 191.0 238.4 190.6 239.2 190.4C239.2 191.3 239.5 193.9 239.3 195.5C239.2 197.2 238.8 198.8 238.2 200.2C237.7 201.7 236.9 202.9 235.8 204.3C234.8 205.6 232.5 207.6 231.8 208.3C231.6 207.1 230.9 203.4 230.7 200.9C230.5 198.4 230.5 194.7 230.5 193.5Z" fill="#1cc452" stroke="#0c2f0a" stroke-width="1.2" stroke-linejoin="round" stroke-linecap="round" />
<path d="M183.4 239.9C184.6 239.4 188.0 237.9 190.2 237.2C192.3 236.5 195.2 235.8 196.2 235.6C196.4 236.1 198.1 237.8 197.3 238.8C196.5 239.7 193.8 241.0 191.5 241.2C189.2 241.4 184.8 240.1 183.4 239.9Z" fill="#1cc452" stroke="#0c2f0a" stroke-width="1.2" stroke-linejoin="round" stroke-linecap="round" />
<path d="M641 28.2H779.7V58.9H641L633.5 51.4V35.7Z" fill="#e5e5cf" stroke="#4c4c1c" stroke-width="1.5" stroke-linejoin="miter"/>
<circle cx="640.5" cy="43.5" r="2.3" fill="#e5e5cf" stroke="#2e2e10" stroke-width="1.1"/>
<text x="650.2" y="48.9" font-size="15.6" textLength="57.9" lengthAdjust="spacingAndGlyphs" fill="#26260e" stroke="#26260e" stroke-width="0.35">PARENT</text>
<text x="725.1" y="48.9" font-size="15.6" textLength="46.6" lengthAdjust="spacingAndGlyphs" fill="#26260e" stroke="#26260e" stroke-width="0.35">PLANT</text>
<path d="M129 111.9H206L214 119.9V133.7L206 141.7H129Z" fill="#e5e5cf" stroke="#4c4c1c" stroke-width="1.5" stroke-linejoin="miter"/>
<circle cx="207.3" cy="126.3" r="2.3" fill="#e5e5cf" stroke="#2e2e10" stroke-width="1.1"/>
<text x="137.6" y="131.9" font-size="15.6" textLength="58.3" lengthAdjust="spacingAndGlyphs" fill="#26260e" stroke="#26260e" stroke-width="0.35">RUNNER</text>
<path d="M302.4 272.5H422.4V339.9H302.4L294.2 331.8V280.6Z" fill="#e5e5cf" stroke="#4c4c1c" stroke-width="1.5" stroke-linejoin="miter"/>
<circle cx="301.2" cy="305.8" r="2.3" fill="#e5e5cf" stroke="#2e2e10" stroke-width="1.1"/>
<text x="311.7" y="290.3" font-size="15.6" textLength="101.2" lengthAdjust="spacingAndGlyphs" fill="#26260e" stroke="#26260e" stroke-width="0.35">GENETICALLY</text>
<text x="311.7" y="311.8" font-size="15.6" textLength="77.4" lengthAdjust="spacingAndGlyphs" fill="#26260e" stroke="#26260e" stroke-width="0.35">IDENTICAL</text>
<text x="311.7" y="332.9" font-size="15.6" textLength="76.6" lengthAdjust="spacingAndGlyphs" fill="#26260e" stroke="#26260e" stroke-width="0.35">PLANTLET</text>
<path d="M286.6 473.7H360.7L367.9 480.9V496.8L360.7 504H286.6L279.4 496.8V480.9Z" fill="#ecece0" stroke="#2c230a" stroke-width="1.8" stroke-linejoin="miter"/>
<circle cx="285.3" cy="488.9" r="2.3" fill="#e5e5cf" stroke="#2e2e10" stroke-width="1.1"/>
<circle cx="362.5" cy="488.9" r="2.3" fill="#e5e5cf" stroke="#2e2e10" stroke-width="1.1"/>
<text x="299.3" y="494.9" font-size="15.6" textLength="50.9" lengthAdjust="spacingAndGlyphs" fill="#26260e" stroke="#26260e" stroke-width="0.35">ROOTS</text>
<path d="M640.0 43.3C638.3 44.2 633.3 46.5 630.0 48.5C626.7 50.5 623.2 52.2 620.0 55.5C616.8 58.8 613.0 63.9 610.5 68.0C608.0 72.1 607.2 75.4 605.2 80.0C603.2 84.6 600.6 90.1 598.6 95.8C596.6 101.5 594.6 108.8 593.3 114.3C592.0 119.8 591.1 126.4 590.7 128.8" fill="none" stroke="#34330e" stroke-width="1.6" stroke-linecap="round"/>
<path d="M590.7 128.8Q588.0 116.0 587.5 103.2" fill="none" stroke="#34330e" stroke-width="1.6" stroke-linecap="round"/>
<path d="M590.7 128.8Q595.0 115.0 603.9 105.1" fill="none" stroke="#34330e" stroke-width="1.6" stroke-linecap="round"/>
<path d="M208.0 126.3C210.8 126.8 218.8 126.9 225.0 129.0C231.2 131.1 239.2 135.2 245.0 139.0C250.8 142.8 256.1 147.7 260.0 152.0C263.9 156.3 267.2 162.6 268.6 164.7" fill="none" stroke="#34330e" stroke-width="1.6" stroke-linecap="round"/>
<path d="M268.6 164.7Q261.0 160.0 252.5 158.7" fill="none" stroke="#34330e" stroke-width="1.6" stroke-linecap="round"/>
<path d="M268.6 164.7Q268.5 157.0 265.4 148.6" fill="none" stroke="#34330e" stroke-width="1.6" stroke-linecap="round"/>
<path d="M301.0 305.8C299.5 305.9 295.3 305.7 292.0 306.5C288.7 307.3 284.9 308.8 281.0 310.5C277.1 312.2 276.1 312.4 268.7 317.0C261.3 321.6 246.2 332.1 236.4 337.9C226.6 343.7 217.7 348.7 209.6 352.0C201.5 355.3 194.4 356.8 188.0 357.5C181.6 358.2 173.8 356.2 170.9 356.0" fill="none" stroke="#34330e" stroke-width="1.6" stroke-linecap="round"/>
<path d="M170.9 356.0Q178.0 350.5 187.9 348.6" fill="none" stroke="#34330e" stroke-width="1.6" stroke-linecap="round"/>
<path d="M170.9 356.0Q177.0 360.0 185.2 366.1" fill="none" stroke="#34330e" stroke-width="1.6" stroke-linecap="round"/>
<path d="M284.5 488.7C282.8 489.0 277.9 490.6 274.1 490.3C270.3 490.0 265.8 488.7 261.6 486.6C257.5 484.6 253.3 481.0 249.2 478.0C245.0 475.0 240.9 471.6 236.7 468.6C232.5 465.6 228.3 462.6 224.2 460.1C220.0 457.6 216.5 455.4 211.8 453.8C207.1 452.2 201.8 451.2 196.2 450.7C190.6 450.2 181.3 450.7 178.3 450.7" fill="none" stroke="#20150a" stroke-width="1.6" stroke-linecap="round"/>
<path d="M178.3 450.7Q186.0 446.0 195.4 443.4" fill="none" stroke="#20150a" stroke-width="1.6" stroke-linecap="round"/>
<path d="M178.3 450.7Q188.0 454.5 197.7 457.0" fill="none" stroke="#20150a" stroke-width="1.6" stroke-linecap="round"/>
<path d="M363.3 488.5C364.9 488.5 369.0 489.5 373.0 488.3C377.0 487.1 382.6 485.2 387.4 481.3C392.2 477.4 397.3 471.1 401.8 465.1C406.3 459.1 410.2 451.4 414.4 445.4C418.6 439.4 422.4 434.0 426.9 429.2C431.4 424.4 436.5 419.8 441.3 416.6C446.1 413.5 450.6 411.7 455.7 410.3C460.8 408.9 467.1 408.6 471.9 408.5C476.7 408.4 481.1 408.9 484.5 409.7C487.9 410.4 491.2 412.4 492.6 413.0" fill="none" stroke="#20150a" stroke-width="1.6" stroke-linecap="round"/>
<path d="M492.6 413.0Q487.5 407.0 480.0 403.1" fill="none" stroke="#20150a" stroke-width="1.6" stroke-linecap="round"/>
<path d="M492.6 413.0Q485.5 414.5 478.2 413.0" fill="none" stroke="#20150a" stroke-width="1.6" stroke-linecap="round"/>
<text class="cap" x="4" y="633" textLength="818" lengthAdjust="spacing">Some plants grow side shoots called runners that contain tiny plantlets on them. These will grow roots</text>
<text class="cap" x="276.2" y="657.2" textLength="263.5" lengthAdjust="spacing">and develop into separate plants.</text>
</svg>

</body></html>
